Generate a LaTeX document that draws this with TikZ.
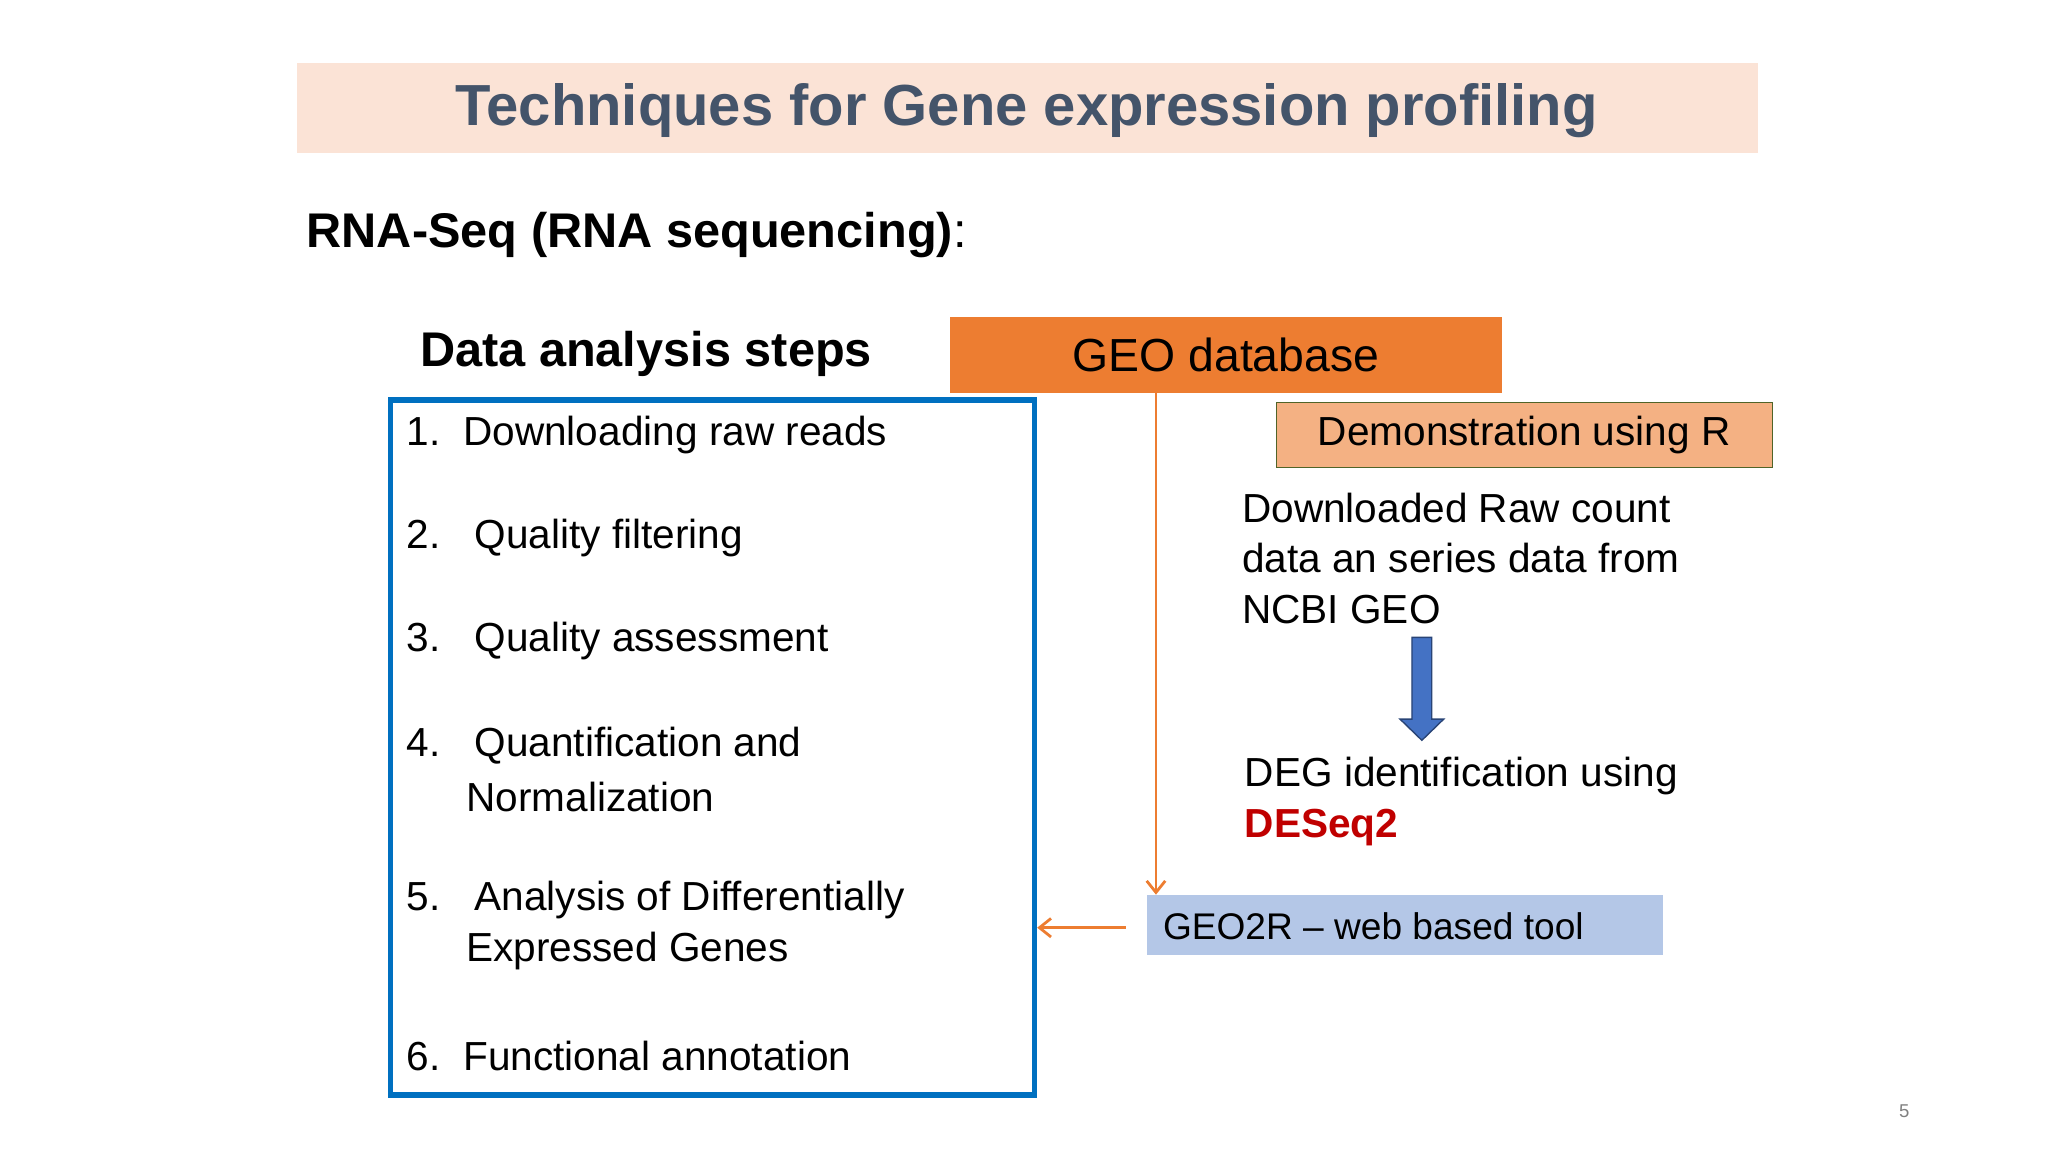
\documentclass[tikz,border=0pt]{standalone}
\usepackage{fontspec}
\setmainfont{Liberation Sans}
\usetikzlibrary{arrows.meta}
\definecolor{peach}{HTML}{FBE3D6}
\definecolor{slate}{HTML}{44546A}
\definecolor{orng}{HTML}{ED7D31}
\definecolor{lorng}{HTML}{F4B183}
\definecolor{bblue}{HTML}{0070C0}
\definecolor{lblue}{HTML}{B4C7E7}
\definecolor{mblue}{HTML}{4472C4}
\definecolor{dred}{HTML}{C00000}
\tikzset{
 txt/.style={anchor=west,inner sep=0pt,font=\fontsize{17.5}{21}\selectfont},
 item/.style={txt,align=left,text width=9cm},
 oline/.style={draw=orng,line width=1.2pt}
}
\begin{document}
\begin{tikzpicture}[x=0.02cm,y=-0.02cm]
\useasboundingbox[fill=white] (0,0) rectangle (1552,873);
\fill[peach] (225,48) rectangle (1332,116);
\node[font=\bfseries\fontsize{25}{30}\selectfont,text=slate] (title) at (778,84) {Techniques for Gene expression profiling};
\node[anchor=west,inner sep=0pt,font=\fontsize{21}{25}\selectfont] (rna) at (232,178) {\textbf{RNA-Seq (RNA sequencing)}:};
\node[anchor=west,inner sep=0pt,font=\bfseries\fontsize{21}{25}\selectfont] (das) at (318,268) {Data analysis steps};
\node[fill=orng,minimum width=418*0.02cm,minimum height=58*0.02cm,inner sep=0pt,font=\fontsize{20}{24}\selectfont] (geo) at (929,269) {GEO database};
\draw[bblue,line width=2.4pt] (296,303) rectangle (784,830);
\node[txt] (i1) at (308,330) {1.\ \ Downloading raw reads};
\node[txt] (i2) at (308,408) {2.\ \ \ Quality filtering};
\node[txt] (i3) at (308,486) {3.\ \ \ Quality assessment};
\node[txt] (i4) at (308,565) {4.\ \ \ Quantification and};
\node[txt] (i4b) at (353,604) {Normalization};
\node[txt] (i5) at (308,682) {5.\ \ \ Analysis of Differentially};
\node[txt] (i5b) at (353,721) {Expressed Genes};
\node[txt] (i6) at (308,800) {6.\ \ Functional annotation};
\node[fill=lorng,draw={rgb,255:red,80;green,100;blue,40},minimum width=376*0.02cm,minimum height=49*0.02cm,inner sep=0pt,font=\fontsize{17.5}{21}\selectfont] (demo) at (1155,329.5) {Demonstration using R};
\node[txt] (d1) at (941,385) {Downloaded Raw count};
\node[txt] (d2) at (941,423) {data an series data from};
\node[txt] (d3) at (941,462) {NCBI GEO};
\draw[fill=mblue,draw=mblue!60!black,line width=0.6pt] (1070,483) -- (1085,483) -- (1085,545) -- (1094,545) -- (1077.5,561) -- (1061,545) -- (1070,545) -- cycle;
\node[txt] (deg) at (943,588) {DEG identification using};
\node[txt,font=\bfseries\fontsize{17.5}{21}\selectfont,text=dred] (des) at (943,627) {DESeq2};
\node[fill=lblue,minimum width=391*0.02cm,minimum height=46*0.02cm,inner sep=0pt] (g2r) at (1064.5,701) {};
\node[txt,font=\fontsize{16}{20}\selectfont] (g2rt) at (881,702) {GEO2R -- web based tool};
\coordinate (top) at (876,298);
\coordinate (bot) at (876,678);
\draw[oline,-{Straight Barb[length=5pt,width=8pt]}] (top) -- (bot);
\coordinate (a1) at (853,703);
\coordinate (a2) at (786,703);
\draw[oline,-{Straight Barb[length=5pt,width=8pt]}] (a1) -- (a2);
\node[text=gray,font=\fontsize{8}{10}\selectfont] (pg) at (1443,842) {5};
\end{tikzpicture}
\end{document}
